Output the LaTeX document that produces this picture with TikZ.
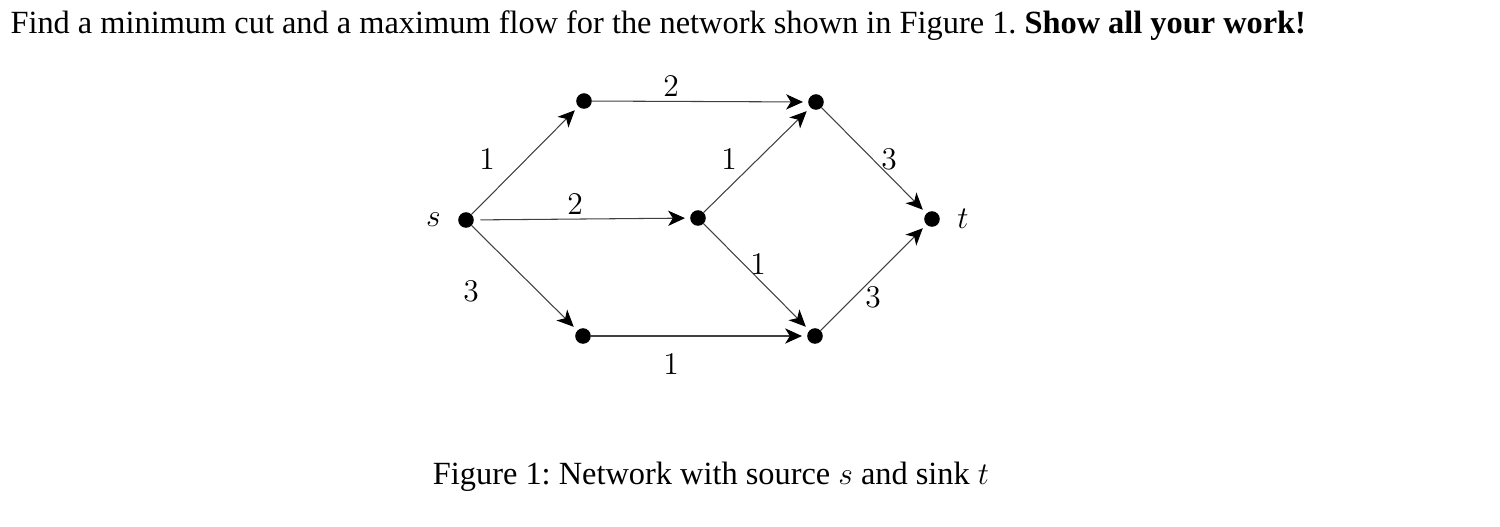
\documentclass[tikz,border=0pt,12pt]{standalone}
\usepackage[no-math]{fontspec}
\setmainfont{Liberation Serif}
\usepackage{amsmath}
\usepackage{tikz}
\usetikzlibrary{arrows.meta, positioning}
\tikzstyle{bnode} = [circle, fill, draw, inner sep = 0pt, minimum size = 5.5pt]
\tikzstyle{line} = [draw, black!75, line width = 0.4pt, -{Stealth[black, length=6.4pt, width=5.8pt, inset=1.8pt]}, shorten > = 2pt]
\tikzstyle{wlabel} = [inner sep = 0pt]

\begin{document}
\begin{tikzpicture}[x=0.38pt, y=-0.38pt, font=\fontsize{12.3}{15}\selectfont]
			\useasboundingbox (0, 0) rectangle (1500, 526);
			\node [anchor=base west, inner sep=0pt] (task) at (10, 33) {\frenchspacing Find a minimum cut and a maximum flow for the network shown in Figure 1. \textbf{Show all your work!}};
			
			\node [bnode, label={[label distance=2.5pt]left:{$s$}}] (s) at (466, 220) {};
			\node [bnode] (a) at (584, 101) {};
			\node [bnode] (b) at (816, 102) {};
			\node [bnode] (m) at (698, 218) {};
			\node [bnode] (c) at (583, 336) {};
			\node [bnode] (d) at (815, 336) {};
			\node [bnode, label={[label distance=2.5pt]right:{$t$}}] (t) at (932, 219) {};
			
			\path [line] (s) -- (a);
			\path [line, shorten < = 2.5pt] (s) -- (m);
			\path [line] (s) -- (c);
			\path [line] (a) -- (b);
			\path [line] (m) -- (b);
			\path [line] (m) -- (d);
			\path [line] (c) -- (d);
			\path [line] (b) -- (t);
			\path [line] (d) -- (t);
			
			\node [wlabel] (sa) at (487, 159) {$1$};
			\node [wlabel] (sm) at (575, 204) {$2$};
			\node [wlabel] (sc) at (471, 291) {$3$};
			\node [wlabel] (ab) at (671, 86) {$2$};
			\node [wlabel] (mb) at (729, 159) {$1$};
			\node [wlabel] (md) at (758, 264) {$1$};
			\node [wlabel] (cd) at (671, 364) {$1$};
			\node [wlabel] (bt) at (889, 159) {$3$};
			\node [wlabel] (dt) at (873, 297) {$3$};
			
			\node [anchor=base, inner sep=0pt] (fig) at (711, 484) {\frenchspacing Figure 1: Network with source $s$ and sink $t$};
		\end{tikzpicture}
\end{document}
